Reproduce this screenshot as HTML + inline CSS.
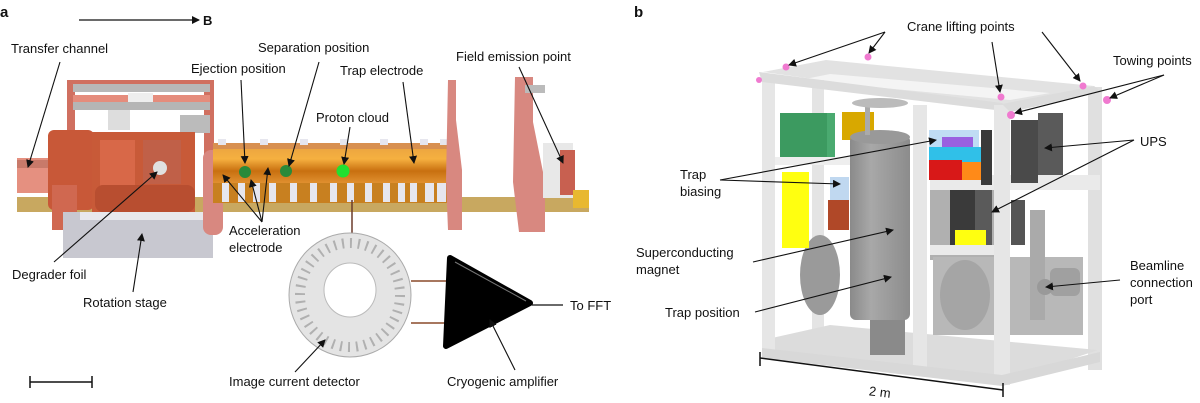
<!DOCTYPE html>
<html><head><meta charset="utf-8"><style>
html,body{margin:0;padding:0;background:#fff;width:1200px;height:403px;overflow:hidden}
svg{display:block}
text{font-family:"Liberation Sans",sans-serif;font-size:13px;fill:#111}
</style></head><body>
<svg width="1200" height="403" viewBox="0 0 1200 403">
<defs>
<marker id="ah" markerWidth="8" markerHeight="8" refX="7" refY="4" orient="auto" markerUnits="userSpaceOnUse">
<path d="M0,0 L8,4 L0,8 z" fill="#111"/></marker>
<linearGradient id="cu" x1="0" y1="0" x2="0" y2="1"><stop offset="0" stop-color="#e8a040"/><stop offset="0.4" stop-color="#f5b040"/><stop offset="0.7" stop-color="#c87010"/><stop offset="1" stop-color="#e09030"/></linearGradient>
<linearGradient id="mag" x1="0" y1="0" x2="1" y2="0"><stop offset="0" stop-color="#8a8a8a"/><stop offset="0.35" stop-color="#a8a8a8"/><stop offset="1" stop-color="#8c8c8c"/></linearGradient>
</defs>

<!-- PANEL A -->
<text x="0" y="17" style="font-weight:bold;font-size:15px">a</text>
<line x1="79" y1="20" x2="199" y2="20" stroke="#111" stroke-width="1.2" marker-end="url(#ah)"/>
<text x="203" y="25" style="font-weight:bold">B</text>

<rect x="17" y="197" width="572" height="15" fill="#c8a860"/>
<rect x="17" y="158" width="70" height="35" fill="#e59080"/>
<rect x="17" y="160" width="70" height="8" fill="#c87a6a"/>
<rect x="67" y="80" width="8" height="80" fill="#d07060"/>
<rect x="204" y="80" width="10" height="150" fill="#d07060"/>
<rect x="67" y="80" width="147" height="6" fill="#d07060"/>
<rect x="73" y="84" width="137" height="8" fill="#b8b8b8"/>
<rect x="73" y="95" width="137" height="7" fill="#e58c7c"/>
<rect x="128" y="93" width="25" height="9" fill="#eee"/>
<rect x="73" y="102" width="137" height="8" fill="#b5b5b5"/>
<rect x="108" y="110" width="22" height="20" fill="#ddd"/>
<rect x="180" y="115" width="30" height="18" fill="#bbb"/>
<rect x="48" y="130" width="46" height="80" rx="6" fill="#c85838"/>
<rect x="52" y="185" width="25" height="45" fill="#d06850"/>
<rect x="92" y="132" width="103" height="82" fill="#c85a38"/>
<rect x="100" y="140" width="35" height="55" fill="#d86848"/>
<rect x="143" y="140" width="38" height="44" fill="#c06048"/>
<circle cx="160" cy="168" r="7" fill="#e0e0e0"/>
<rect x="95" y="185" width="100" height="27" rx="8" fill="#b84e30"/>
<rect x="63" y="212" width="150" height="46" fill="#c8c8d0"/>
<rect x="80" y="212" width="130" height="8" fill="#e8e8ec"/>
<rect x="203" y="150" width="20" height="85" rx="8" fill="#d88880"/>
<rect x="213" y="143" width="235" height="40" fill="url(#cu)"/>
<rect x="213" y="143" width="235" height="6" fill="#d89050"/>
<rect x="213" y="183" width="235" height="20" fill="#c88020"/>
<g fill="#e6e6ee">
<rect x="222" y="183" width="7" height="19"/><rect x="238" y="183" width="7" height="19"/><rect x="253" y="183" width="7" height="19"/><rect x="269" y="183" width="7" height="19"/><rect x="290" y="183" width="7" height="19"/><rect x="310" y="183" width="7" height="19"/><rect x="330" y="183" width="7" height="19"/><rect x="347" y="183" width="7" height="19"/><rect x="365" y="183" width="7" height="19"/><rect x="383" y="183" width="7" height="19"/><rect x="398" y="183" width="7" height="19"/><rect x="410" y="183" width="7" height="19"/><rect x="425" y="183" width="9" height="19"/><rect x="437" y="183" width="9" height="19"/>
<rect x="218" y="139" width="8" height="6"/><rect x="260" y="139" width="8" height="6"/><rect x="300" y="139" width="8" height="6"/><rect x="340" y="139" width="8" height="6"/><rect x="380" y="139" width="8" height="6"/><rect x="420" y="139" width="8" height="6"/><rect x="440" y="139" width="8" height="6"/>
</g>
<circle cx="245" cy="172" r="6" fill="#2a8a3a"/>
<circle cx="286" cy="171" r="6" fill="#2a8a3a"/>
<circle cx="343" cy="171" r="6.5" fill="#22e030"/>
<path d="M448,80 h8 v40 l6,50 v60 h-14 l-2,-50 z" fill="#d88880"/>
<path d="M515,77 h18 v45 l12,60 v50 h-26 l-6,-50 z" fill="#d88880"/>
<rect x="525" y="85" width="20" height="8" fill="#bbb"/>
<rect x="543" y="143" width="30" height="55" fill="#e8e8e8"/>
<rect x="560" y="150" width="15" height="45" fill="#c86050"/>
<rect x="573" y="190" width="16" height="18" fill="#e8b830"/>
<line x1="352" y1="200" x2="352" y2="234" stroke="#6a3a2a" stroke-width="1.5"/>
<ellipse cx="350" cy="295" rx="61" ry="62" fill="#e4e4e4" stroke="#aaa"/>
<ellipse cx="350" cy="295" rx="50" ry="52" fill="none" stroke="#b0b0b0" stroke-width="10" stroke-dasharray="2 6"/>
<ellipse cx="350" cy="290" rx="26" ry="27" fill="#fff" stroke="#bbb"/>
<line x1="411" y1="281" x2="448" y2="281" stroke="#8a4a2a" stroke-width="1.5"/>
<line x1="411" y1="323" x2="448" y2="323" stroke="#8a4a2a" stroke-width="1.5"/>
<polygon points="450,258 530,303 446,346" fill="#000" stroke="#000" stroke-width="6" stroke-linejoin="round"/>
<line x1="455" y1="262" x2="526" y2="301" stroke="#777" stroke-width="1"/>
<line x1="532" y1="305" x2="563" y2="305" stroke="#111" stroke-width="1.2"/>
<text x="570" y="310">To FFT</text>

<g stroke="#111" stroke-width="1.1" fill="none">
<line x1="60" y1="62" x2="28" y2="167" marker-end="url(#ah)"/>
<line x1="319" y1="62" x2="289" y2="166" marker-end="url(#ah)"/>
<line x1="241" y1="80" x2="245" y2="163" marker-end="url(#ah)"/>
<line x1="403" y1="82" x2="414" y2="163" marker-end="url(#ah)"/>
<line x1="350" y1="127" x2="344" y2="164" marker-end="url(#ah)"/>
<line x1="519" y1="67" x2="563" y2="163" marker-end="url(#ah)"/>
<line x1="262" y1="222" x2="223" y2="175" marker-end="url(#ah)"/>
<line x1="262" y1="222" x2="251" y2="180" marker-end="url(#ah)"/>
<line x1="262" y1="222" x2="268" y2="168" marker-end="url(#ah)"/>
<line x1="54" y1="262" x2="157" y2="172" marker-end="url(#ah)"/>
<line x1="133" y1="292" x2="142" y2="234" marker-end="url(#ah)"/>
<line x1="295" y1="372" x2="325" y2="340" marker-end="url(#ah)"/>
<line x1="515" y1="370" x2="490" y2="320" marker-end="url(#ah)"/>
</g>
<text x="11" y="53">Transfer channel</text>
<text x="258" y="52">Separation position</text>
<text x="191" y="73">Ejection position</text>
<text x="340" y="75">Trap electrode</text>
<text x="456" y="61">Field emission point</text>
<text x="316" y="122">Proton cloud</text>
<text x="229" y="235">Acceleration</text>
<text x="229" y="252">electrode</text>
<text x="12" y="279">Degrader foil</text>
<text x="83" y="307">Rotation stage</text>
<text x="229" y="386">Image current detector</text>
<text x="447" y="386">Cryogenic amplifier</text>
<line x1="30" y1="382" x2="92" y2="382" stroke="#111" stroke-width="1.5"/>
<line x1="30" y1="376" x2="30" y2="388" stroke="#111" stroke-width="1.5"/>
<line x1="92" y1="376" x2="92" y2="388" stroke="#111" stroke-width="1.5"/>

<!-- PANEL B -->
<text x="634" y="17" style="font-weight:bold;font-size:15px">b</text>
<polygon points="763,72 826,60 1094,86 1002,105" fill="#e2e2e2"/>
<polygon points="800,80 830,74 1050,93 1010,100" fill="#f4f4f4"/>
<rect x="1088" y="87" width="14" height="283" fill="#e0e0e0"/>
<rect x="812" y="80" width="12" height="270" fill="#e4e4e4"/>
<polygon points="763,340 830,325 1098,350 1000,383 763,355" fill="#dcdcdc"/>
<ellipse cx="820" cy="275" rx="20" ry="40" fill="#9a9a9a"/>
<rect x="780" y="113" width="55" height="47" fill="#3c9a60"/>
<rect x="827" y="113" width="8" height="47" fill="#4aaa70"/>
<rect x="842" y="112" width="32" height="28" fill="#d8a800"/>
<rect x="782" y="172" width="27" height="76" fill="#ffff10"/>
<rect x="830" y="177" width="19" height="23" fill="#c0d8f0"/>
<rect x="828" y="200" width="21" height="30" fill="#b04828"/>
<rect x="772" y="157" width="80" height="8" fill="#eee"/>
<rect x="870" y="315" width="35" height="40" fill="#8a8a8a"/>
<rect x="850" y="135" width="60" height="185" rx="6" fill="url(#mag)"/>
<ellipse cx="880" cy="137" rx="30" ry="7" fill="#999"/>
<rect x="865" y="100" width="5" height="35" fill="#aaa"/>
<ellipse cx="880" cy="103" rx="28" ry="5" fill="#bbb"/>
<rect x="930" y="190" width="70" height="70" fill="#b0b0b0"/>
<rect x="950" y="182" width="42" height="65" fill="#3a3a3a"/>
<rect x="975" y="182" width="17" height="65" fill="#5a5a5a"/>
<rect x="1011" y="200" width="14" height="45" fill="#555"/>
<rect x="955" y="230" width="31" height="23" fill="#ffff10"/>
<rect x="933" y="257" width="150" height="78" fill="#b8b8b8"/>
<ellipse cx="965" cy="295" rx="25" ry="35" fill="#a5a5a5"/>
<rect x="1030" y="210" width="15" height="110" fill="#aaa"/>
<rect x="1050" y="268" width="30" height="28" rx="6" fill="#a0a0a0"/>
<circle cx="1045" cy="287" r="8" fill="#999"/>
<rect x="930" y="175" width="170" height="15" fill="#eaeaea"/>
<rect x="930" y="245" width="80" height="10" fill="#eaeaea"/>
<rect x="929" y="130" width="50" height="18" fill="#c0dcf4"/>
<rect x="942" y="137" width="31" height="11" fill="#9a60e0"/>
<rect x="929" y="147" width="52" height="16" fill="#30c0e8"/>
<rect x="929" y="160" width="33" height="20" fill="#d81818"/>
<rect x="962" y="162" width="19" height="18" fill="#ff8a18"/>
<rect x="981" y="130" width="11" height="55" fill="#3a3a3a"/>
<rect x="1011" y="120" width="27" height="63" fill="#4a4a4a"/>
<rect x="1038" y="113" width="25" height="62" fill="#5a5a5a"/>
<rect x="913" y="105" width="14" height="270" fill="#e6e6e6"/>
<rect x="762" y="75" width="13" height="280" fill="#e6e6e6"/>
<polygon points="759,72 1002,103 1012,112 762,82" fill="#dcdcdc"/>
<rect x="994" y="105" width="16" height="280" fill="#e6e6e6"/>
<polygon points="762,348 1002,375 1100,352 1100,362 1002,386 762,358" fill="#d8d8d8"/>
<polygon points="1002,104 1094,86 1102,92 1010,112" fill="#dcdcdc"/>
<g fill="#f07ad0">
<circle cx="786" cy="67" r="3.5"/><circle cx="868" cy="57" r="3.5"/><circle cx="1001" cy="97" r="3.5"/><circle cx="1083" cy="86" r="3.5"/><circle cx="1011" cy="115" r="4"/><circle cx="1107" cy="100" r="4"/><circle cx="759" cy="80" r="3"/>
</g>
<g stroke="#111" stroke-width="1.1" fill="none">
<line x1="885" y1="32" x2="789" y2="65" marker-end="url(#ah)"/>
<line x1="885" y1="32" x2="869" y2="53" marker-end="url(#ah)"/>
<line x1="992" y1="42" x2="1000" y2="92" marker-end="url(#ah)"/>
<line x1="1042" y1="32" x2="1080" y2="81" marker-end="url(#ah)"/>
<line x1="1164" y1="75" x2="1015" y2="113" marker-end="url(#ah)"/>
<line x1="1164" y1="75" x2="1110" y2="98" marker-end="url(#ah)"/>
<line x1="1134" y1="140" x2="1045" y2="148" marker-end="url(#ah)"/>
<line x1="1134" y1="140" x2="992" y2="212" marker-end="url(#ah)"/>
<line x1="720" y1="180" x2="936" y2="140" marker-end="url(#ah)"/>
<line x1="720" y1="180" x2="840" y2="184" marker-end="url(#ah)"/>
<line x1="753" y1="262" x2="893" y2="230" marker-end="url(#ah)"/>
<line x1="755" y1="312" x2="891" y2="277" marker-end="url(#ah)"/>
<line x1="1120" y1="280" x2="1046" y2="287" marker-end="url(#ah)"/>
</g>
<line x1="760" y1="358" x2="1003" y2="390" stroke="#111" stroke-width="1.5"/>
<line x1="760" y1="352" x2="760" y2="366" stroke="#111" stroke-width="1.5"/>
<line x1="1003" y1="383" x2="1003" y2="397" stroke="#111" stroke-width="1.5"/>
<text x="869" y="396" transform="rotate(7 875 392)">2 m</text>
<text x="907" y="31">Crane lifting points</text>
<text x="1113" y="65">Towing points</text>
<text x="1140" y="146">UPS</text>
<text x="680" y="179">Trap</text>
<text x="680" y="196">biasing</text>
<text x="636" y="257">Superconducting</text>
<text x="636" y="274">magnet</text>
<text x="665" y="317">Trap position</text>
<text x="1130" y="270">Beamline</text>
<text x="1130" y="287">connection</text>
<text x="1130" y="304">port</text>
</svg>
</body></html>
